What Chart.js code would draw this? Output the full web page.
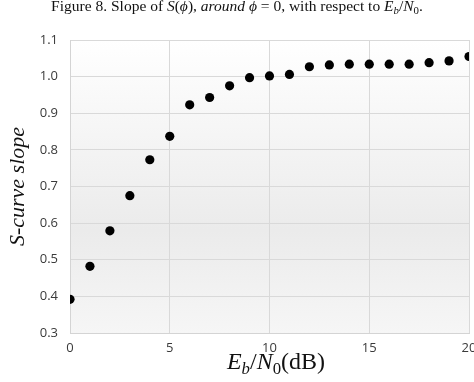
<!DOCTYPE html>
<html>
<head>
<meta charset="utf-8">
<script src="https://cdn.jsdelivr.net/npm/chart.js@4"></script>
<style>
  html, body { margin: 0; padding: 0; background: #ffffff; }
  #wrap { position: relative; width: 474px; height: 382px; overflow: hidden; }
  #c { position: absolute; left: 0; top: 0; }
  .ov { position: absolute; white-space: nowrap; font-family: "Liberation Serif", "DejaVu Serif", serif; color: #111; }
  #title { left: 0; width: 474px; top: -3px; text-align: center; font-size: 15.5px; }
  #xtitle { left: 0; width: 552px; top: 348px; text-align: center; font-size: 24px; }
  i { font-style: italic; }
  sub { font-size: 70%; vertical-align: -0.3em; line-height: 0; }
</style>
</head>
<body>
<div id="wrap">
  <canvas id="c" width="474" height="382"></canvas>
  <div class="ov" id="title">Figure 8. Slope of <i>S</i>(<i>ϕ</i>), <i>around ϕ</i> = 0, with respect to <i>E<sub>b</sub></i>/<i>N</i><sub>0</sub>.</div>
  <div class="ov" id="xtitle"><i>E<sub>b</sub></i>/<i>N</i><sub>0</sub>(dB)</div>
</div>
<script>
// Data
const ebN0dB = [0, 1, 2, 3, 4, 5, 6, 7, 8, 9, 10, 11, 12, 13, 14, 15, 16, 17, 18, 19, 20];
const curveSlope = [0.392, 0.482, 0.579, 0.675, 0.773, 0.837, 0.923, 0.943, 0.975, 0.997, 1.002, 1.006, 1.027, 1.032, 1.034, 1.034, 1.034, 1.034, 1.038, 1.043, 1.055];
const xTicks = [0, 5, 10, 15, 20];
const yTicks = [0.3, 0.4, 0.5, 0.6, 0.7, 0.8, 0.9, 1.0, 1.1];
const yAxisTitle = 'S-curve slope';

const points = ebN0dB.map((x, i) => ({ x: x, y: curveSlope[i] }));

const bgPlugin = {
  id: 'plotBg',
  beforeDraw(chart) {
    const { ctx, chartArea: a } = chart;
    const g = ctx.createLinearGradient(0, a.top, 0, a.bottom);
    g.addColorStop(0, '#ffffff');
    g.addColorStop(0.65, '#ebebeb');
    g.addColorStop(1, '#f6f6f6');
    ctx.save();
    ctx.fillStyle = g;
    ctx.fillRect(a.left, a.top, a.right - a.left, a.bottom - a.top);
    ctx.restore();
  }
};

new Chart(document.getElementById('c'), {
  type: 'scatter',
  data: {
    datasets: [{
      data: points,
      backgroundColor: '#000000',
      borderColor: '#000000',
      pointRadius: 4.6,
      pointHoverRadius: 4.6,
      borderWidth: 0
    }]
  },
  options: {
    responsive: false,
    animation: false,
    events: [],
    layout: { padding: { left: 0, right: 5, top: 40, bottom: 0 } },
    plugins: { legend: { display: false }, tooltip: { enabled: false } },
    scales: {
      x: {
        type: 'linear',
        min: 0, max: 20,
        afterBuildTicks: (s) => { s.ticks = xTicks.map(v => ({ value: v })); },
        afterFit: (s) => { s.height = 49; s.paddingLeft = 0; s.paddingRight = 0; },
        grid: { color: '#d9d9d9', lineWidth: 1, drawTicks: false },
        border: { color: '#d4d4d4' },
        ticks: { color: '#3a3a3a', padding: 7, font: { family: 'Open Sans', size: 13 }, maxRotation: 0 }
      },
      y: {
        type: 'linear',
        min: 0.3, max: 1.1,
        afterBuildTicks: (s) => { s.ticks = yTicks.map(v => ({ value: v })); },
        afterFit: (s) => { s.width = 70; s.paddingTop = 0; s.paddingBottom = 0; },
        grid: { color: '#d9d9d9', lineWidth: 1, drawTicks: false },
        border: { color: '#d4d4d4' },
        title: {
          display: true,
          text: yAxisTitle,
          color: '#111',
          font: { family: 'Liberation Serif', size: 22, style: 'italic' },
          padding: { top: 5, bottom: 0 }
        },
        ticks: {
          color: '#3a3a3a', padding: 12,
          font: { family: 'Open Sans', size: 13 },
          callback: (v) => Number(v).toFixed(1)
        }
      }
    }
  },
  plugins: [bgPlugin]
});
</script>
</body>
</html>
